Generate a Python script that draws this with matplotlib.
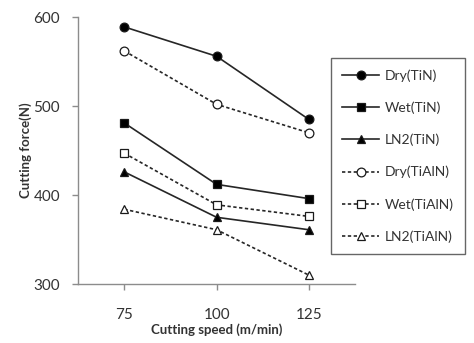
import matplotlib.pyplot as plt
import numpy as np

# data
speeds = ['75', '100', '125']
dry_tin = [589, 556, 485]
wet_tin = [481, 412, 396]
ln2_tin = [426, 375, 361]
dry_tialn = [562, 502, 470]
wet_tialn = [447, 389, 376]
ln2_tialn = [384, 361, 310]

plt.rcParams['font.family'] = ['Lato', 'DejaVu Sans']
TEXT = '#333333'
AXIS = '#8c8c8c'

fig = plt.figure(figsize=(4.74, 3.43), dpi=100)
ax = fig.add_axes([0.165, 0.172, 0.584, 0.778])

x = np.arange(len(speeds))
series = [
    ('Dry(TiN)', dry_tin, 'o', 'black', '-'),
    ('Wet(TiN)', wet_tin, 's', 'black', '-'),
    ('LN2(TiN)', ln2_tin, '^', 'black', '-'),
    ('Dry(TiAlN)', dry_tialn, 'o', 'white', (0, (2, 1.5))),
    ('Wet(TiAlN)', wet_tialn, 's', 'white', (0, (2, 1.5))),
    ('LN2(TiAlN)', ln2_tialn, '^', 'white', (0, (2, 1.5))),
]
for label, vals, mk, fc, ls in series:
    ax.plot(x, vals, linestyle=ls, color='#262626', lw=1.2, marker=mk,
            markersize=6.3, markerfacecolor=fc, markeredgecolor='#1a1a1a',
            markeredgewidth=0.9, label=label)

ax.set_xlim(-0.5, 2.5)
ax.set_ylim(300, 600)
ax.set_xticks(x)
ax.set_xticklabels(speeds)
ax.set_yticks([300, 400, 500, 600])

for side in ['top', 'right']:
    ax.spines[side].set_visible(False)
for side in ['left', 'bottom']:
    ax.spines[side].set_color(AXIS)
    ax.spines[side].set_linewidth(1.0)
ax.tick_params(axis='both', colors=AXIS, labelcolor=TEXT, labelsize=11,
               length=4, width=1.0)
ax.tick_params(axis='x', pad=13)
ax.tick_params(axis='y', pad=9)

ax.set_xlabel('Cutting speed (m/min)', fontsize=9.5, fontweight='bold',
              color=TEXT, labelpad=1)
ax.set_ylabel('Cutting force(N)', fontsize=9.5, fontweight='bold',
              color=TEXT, labelpad=1)

leg = fig.legend(loc='upper left', bbox_to_anchor=(0.698, 0.831),
                 fontsize=10, frameon=True, fancybox=False,
                 handlelength=2.7, labelspacing=1.42, borderpad=0.8,
                 handletextpad=0.4, borderaxespad=0)
leg.get_frame().set_edgecolor('#404040')
leg.get_frame().set_linewidth(1.0)
for t in leg.get_texts():
    t.set_color(TEXT)

fig.savefig('out.png', dpi=100)
